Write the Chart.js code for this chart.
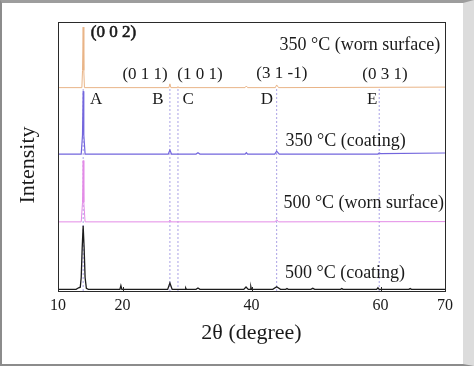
<!DOCTYPE html>
<html>
<head>
<meta charset="utf-8">
<script src="https://cdn.jsdelivr.net/npm/chart.js@4.4.1/dist/chart.umd.min.js"></script>
<style>
html, body { margin: 0; padding: 0; background: #fff; }
#frame {
    width: 474px; height: 366px; box-sizing: border-box; background: #fff;
    border-top: 3px solid #9d9d9d; border-left: 2px solid #8c8c8c;
    border-bottom: 2px solid #8c8c8c; border-right: 11px solid #dcdcdc;
}
#wrap { position: relative; width: 461px; height: 361px; }
</style>
</head>
<body>
<div id="frame"><div id="wrap"><canvas id="xrd"></canvas></div></div>
<script>
// 2theta (deg) and stacked intensity (a.u.)
const seriesNames = ['350 °C (worn surface)', '350 °C (coating)', '500 °C (worn surface)', '500 °C (coating)'];

const worn350Theta = [10, 13.7, 13.8, 13.9, 14.0, 14.1, 27.2, 27.35, 27.5, 28.5, 28.6, 28.7, 39.0, 39.2, 39.4, 43.7, 43.9, 44.2, 70];
const worn350Int   = [75.6, 75.6, 82, 98.1, 82, 75.6, 75.6, 77.0, 75.6, 75.6, 76.0, 75.6, 75.6, 76.2, 75.6, 75.6, 76.6, 75.6, 75.8];

const coat350Theta = [10, 13.6, 13.8, 13.9, 14.0, 14.2, 27.1, 27.35, 27.6, 31.4, 31.7, 32.0, 39.0, 39.2, 39.4, 43.6, 43.9, 44.3, 59.6, 59.8, 60.0, 70];
const coat350Int   = [50.9, 50.9, 58, 74.3, 58, 50.9, 50.9, 52.4, 50.9, 50.9, 51.4, 50.9, 50.9, 51.4, 50.9, 50.9, 52.0, 50.9, 50.9, 51.3, 51.1, 51.3];

const worn500Theta = [10, 13.6, 13.8, 13.9, 14.0, 14.2, 27.2, 27.35, 27.5, 43.7, 43.9, 44.2, 70];
const worn500Int   = [25.7, 25.7, 33, 48.5, 33, 25.7, 25.7, 26.4, 25.7, 25.7, 26.5, 25.7, 25.8];

const coat500Theta = [10, 12.8, 13.2, 13.45, 13.6, 13.75, 13.9, 14.05, 14.2, 14.4, 14.7, 19.6, 19.75, 19.9, 27.0, 27.35, 27.7,
                      29.7, 29.8, 29.9, 31.4, 31.7, 32.0, 38.8, 39.15, 39.5, 39.8, 39.9, 40.0, 43.3, 43.9, 44.5, 45.3, 45.5, 45.7,
                      49.2, 49.5, 49.8, 53.8, 54.0, 54.2, 59.4, 59.6, 59.8, 64.4, 64.6, 64.8, 70];
const coat500Int   = [0.6, 0.6, 1.2, 1.4, 5, 16, 24.2, 16, 5, 1.0, 0.6, 0.6, 2.0, 0.6, 0.6, 3.0, 0.6,
                      0.6, 1.1, 0.6, 0.6, 1.1, 0.6, 0.6, 1.5, 0.6, 0.6, 1.6, 0.6, 0.6, 1.6, 0.6, 0.6, 0.9, 0.6,
                      0.6, 1.0, 0.6, 0.6, 0.9, 0.6, 0.6, 1.2, 0.6, 0.6, 0.9, 0.6, 0.6];

// reference peak positions (dashed guides)
const peakNames = ['A', 'B', 'C', 'D', 'E'];
const peakTheta = [13.9, 27.35, 28.6, 43.9, 59.8];
const guideTop = 75.6;

const xTickValues = [10, 20, 40, 60, 70];
const xInnerTicks = [20, 40, 60];

// text labels placed in data coordinates
const notes = [
    { text: '(0 0 2)', x: 18.6, y: 95.9, size: 17, heavy: true },
    { text: '(0 1 1)', x: 23.5, y: 80.3, size: 17 },
    { text: '(1 0 1)', x: 32.0, y: 80.3, size: 17 },
    { text: '(3 1 -1)', x: 44.7, y: 81.0, size: 17 },
    { text: '(0 3 1)', x: 60.7, y: 80.3, size: 17 },
    { text: 'A', x: 15.9, y: 71.0, size: 17 },
    { text: 'B', x: 25.5, y: 71.0, size: 17 },
    { text: 'C', x: 30.2, y: 71.0, size: 17 },
    { text: 'D', x: 42.4, y: 71.0, size: 17 },
    { text: 'E', x: 58.7, y: 71.0, size: 17 },
    { text: seriesNames[0], x: 56.8, y: 91.4, size: 18 },
    { text: seriesNames[1], x: 54.6, y: 55.5, size: 18 },
    { text: seriesNames[2], x: 57.4, y: 32.7, size: 18 },
    { text: seriesNames[3], x: 54.5, y: 6.7, size: 18 }
];

const serif = '"Liberation Serif", "Times New Roman", serif';

function pts(xs, ys) {
    return xs.map((v, i) => ({ x: v, y: ys[i] }));
}

const datasets = [
    { label: seriesNames[0], data: pts(worn350Theta, worn350Int), borderColor: '#e9b487', borderWidth: 1 },
    { label: seriesNames[1], data: pts(coat350Theta, coat350Int), borderColor: '#7366dd', borderWidth: 1.2 },
    { label: seriesNames[2], data: pts(worn500Theta, worn500Int), borderColor: '#e38be6', borderWidth: 1 },
    { label: seriesNames[3], data: pts(coat500Theta, coat500Int), borderColor: '#1c1c1c', borderWidth: 1.3 }
];
peakNames.forEach((name, i) => {
    datasets.push({
        label: name,
        data: [{ x: peakTheta[i], y: 0 }, { x: peakTheta[i], y: guideTop }],
        borderColor: '#aaa2e6',
        borderWidth: 1,
        borderDash: [2, 2]
    });
});

const overlay = {
    id: 'overlay',
    afterDatasetsDraw(chart) {
        const { ctx, chartArea: a, scales: { x, y } } = chart;
        ctx.save();
        ctx.strokeStyle = '#2a2a2a';
        ctx.lineWidth = 1;
        ctx.strokeRect(a.left + 0.5, a.top + 0.5, a.right - a.left, a.bottom - a.top);
        xInnerTicks.forEach(v => {
            const px = Math.round(x.getPixelForValue(v)) + 0.5;
            ctx.beginPath();
            ctx.moveTo(px, a.bottom);
            ctx.lineTo(px, a.bottom - 4);
            ctx.stroke();
        });
        ctx.fillStyle = '#1a1a1a';
        ctx.strokeStyle = '#1a1a1a';
        ctx.lineWidth = 0.6;
        ctx.textAlign = 'center';
        ctx.textBaseline = 'middle';
        notes.forEach(n => {
            ctx.font = n.size + 'px ' + serif;
            const px = x.getPixelForValue(n.x), py = y.getPixelForValue(n.y);
            ctx.fillText(n.text, px, py);
            if (n.heavy) ctx.strokeText(n.text, px, py);
        });
        // y axis title
        ctx.translate(26, 162);
        ctx.rotate(-Math.PI / 2);
        ctx.font = '22px ' + serif;
        ctx.fillText('Intensity', 0, 0);
        ctx.restore();
    }
};

new Chart(document.getElementById('xrd'), {
    type: 'line',
    data: { datasets: datasets },
    options: {
        responsive: true,
        maintainAspectRatio: false,
        animation: false,
        layout: { padding: { left: 0, top: 19, right: 18, bottom: 0 } },
        elements: { point: { radius: 0 }, line: { tension: 0 } },
        plugins: { legend: { display: false }, tooltip: { enabled: false } },
        scales: {
            x: {
                type: 'linear',
                min: 10,
                max: 70,
                afterBuildTicks: scale => { scale.ticks = xTickValues.map(v => ({ value: v })); },
                afterFit: scale => { scale.height = 73; },
                grid: { display: false, drawTicks: false },
                border: { display: false },
                ticks: { padding: 5, color: '#1a1a1a', font: { family: serif, size: 16 }, maxRotation: 0 },
                title: { display: true, text: '2θ (degree)', color: '#1a1a1a', font: { family: serif, size: 22 }, padding: { top: 4, bottom: 18 } }
            },
            y: {
                min: 0,
                max: 100,
                afterFit: scale => { scale.width = 56; },
                grid: { display: false, drawTicks: false },
                border: { display: false },
                ticks: { display: false }
            }
        }
    },
    plugins: [overlay]
});
</script>
</body>
</html>
